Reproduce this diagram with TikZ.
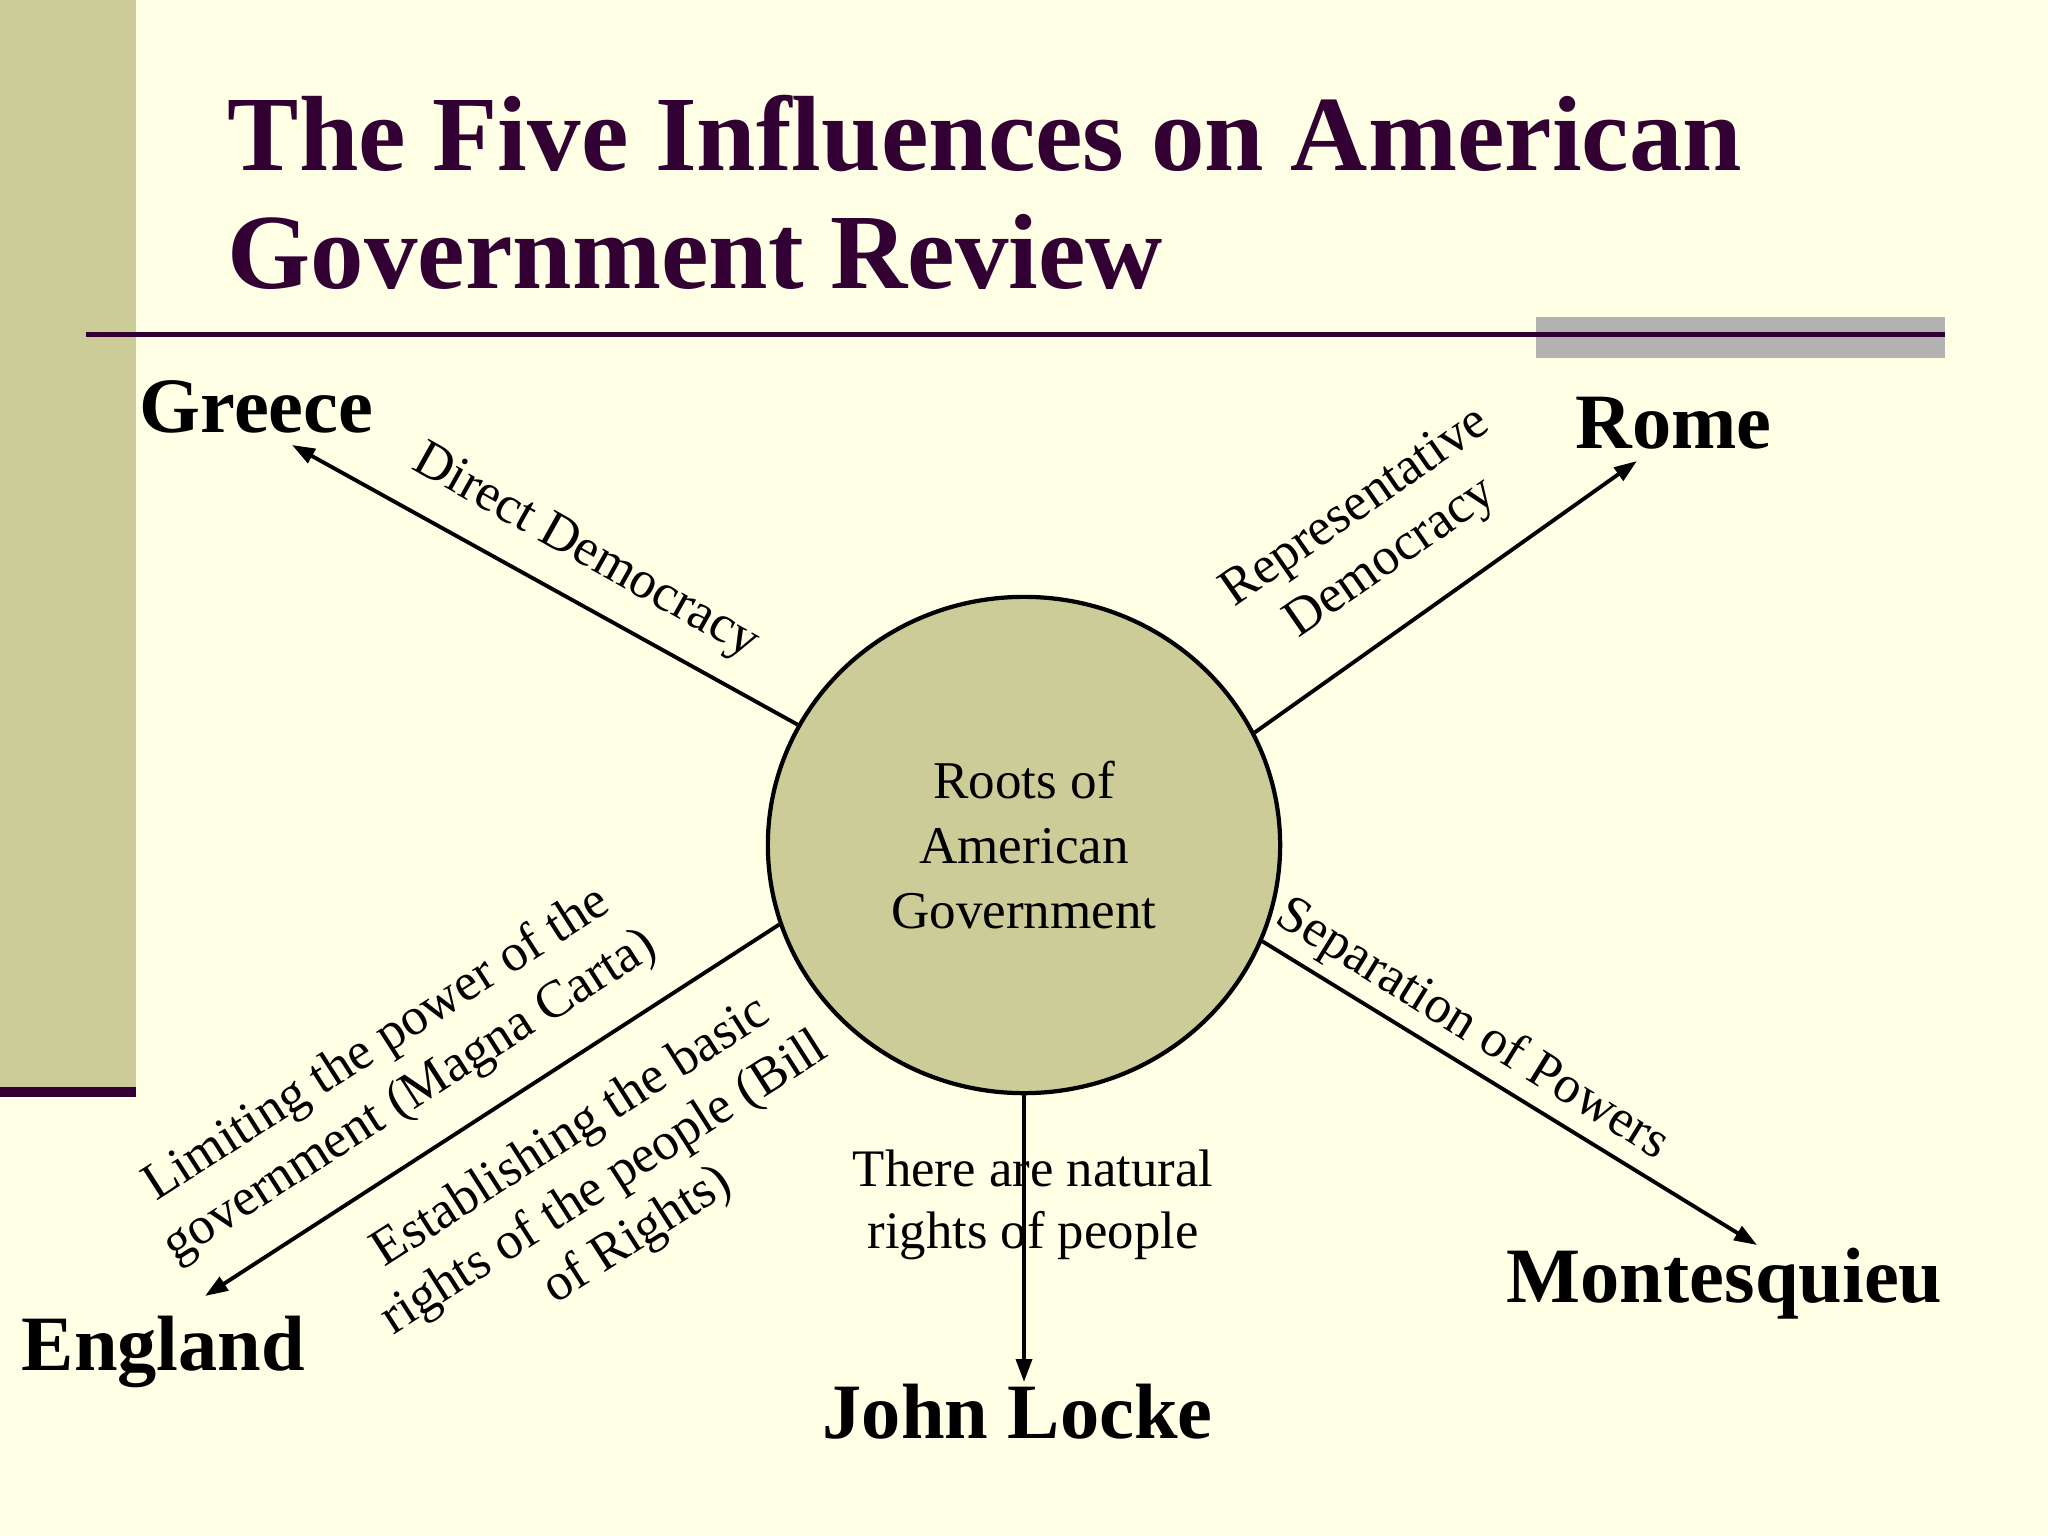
\documentclass[tikz,border=0pt]{standalone}
\usepackage{fontspec}
\setmainfont{Liberation Serif}
\usetikzlibrary{shapes.geometric,arrows.meta}
\definecolor{bg}{HTML}{FFFFE5}
\definecolor{khaki}{HTML}{CCCC99}
\definecolor{plum}{HTML}{330033}
\definecolor{greybar}{HTML}{B2B2B2}
\begin{document}
\begin{tikzpicture}[x=0.01cm,y=-0.01cm,
  titletext/.style={anchor=base west, inner sep=0, text=plum, align=left,
    font=\fontsize{30.4}{33.3}\selectfont\bfseries},
  place/.style={anchor=base west, inner sep=0, font=\fontsize{22.3}{26}\selectfont\bfseries},
  edgelabel/.style={inner sep=0, align=center, font=\fontsize{15}{17.5}\selectfont},
  conn/.style={line width=1.1pt, -{Triangle[length=6.5pt,width=4.5pt]}},
]
\useasboundingbox (0,0) rectangle (2048,1536);
\fill[bg] (0,0) rectangle (2048,1536);
% left bar
\fill[khaki] (0,0) rectangle (136,1087);
\fill[plum] (0,1087) rectangle (136,1097);
% rule with grey block
\fill[greybar] (1536,317) rectangle (1945,358);
\draw[plum, line width=1.4pt] (86,334.5) -- (1945,334.5);
% title (base anchor = baseline of last line)
\node[titletext] (title) at (227,288) {The Five Influences on American\\Government Review};
% centre
\node[ellipse, draw, line width=1.2pt, fill=khaki, minimum width=5.12cm, minimum height=4.96cm,
  inner sep=0, align=center, font=\fontsize{15.1}{18.5}\selectfont] (root) at (1024,845)
  {Roots of\\American\\Government};
% places
\node[place] (greece) at (139,432) {Greece};
\node[place] (rome) at (1575,448) {Rome};
\node[place] (england) at (21,1370) {England};
\node[place] (locke) at (822,1438) {John Locke};
\node[place] (montes) at (1506,1302) {Montesquieu};
% arrow tips
\coordinate (gtip) at (292,445);
\coordinate (rtip) at (1637,461);
\coordinate (etip) at (205,1296);
\coordinate (ltip) at (1024,1382);
\coordinate (mtip) at (1757,1245);
% connectors
\draw[conn] (root.152.9) -- (gtip);
\draw[conn] (root.26.9) -- (rtip);
\draw[conn] (root.198.6) -- (etip);
\draw[conn] (root.south) -- (ltip);
\draw[conn] (root.338.6) -- (mtip);
% labels
\node[edgelabel, rotate=-29.3] (ldirect) at (585,553) {Direct Democracy};
\node[edgelabel, rotate=34.8] (lrep) at (1374,534) {Representative\\Democracy};
\node[edgelabel, rotate=-31.8] (lsep) at (1472,1030) {Separation of Powers};
\node[edgelabel, rotate=32.6] (lmagna) at (394,1071) {Limiting the power of the\\government (Magna Carta)};
\node[edgelabel, rotate=32.6] (lbill) at (605,1185) {Establishing the basic\\rights of the people (Bill\\of Rights)};
\node[edgelabel, anchor=base] (lnat) at (1033,1248) {There are natural\\rights of people};
\end{tikzpicture}
\end{document}
